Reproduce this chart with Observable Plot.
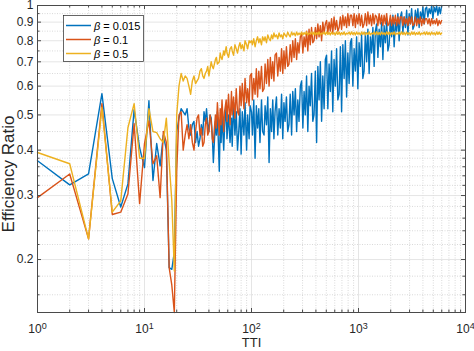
<!DOCTYPE html>
<html><head><meta charset="utf-8">
<script src="https://cdn.jsdelivr.net/npm/d3@7"></script>
<script src="https://cdn.jsdelivr.net/npm/@observablehq/plot@0.6"></script>
<style>
html,body{margin:0;padding:0;background:#fff;}
#chart{width:474px;height:351px;}
</style></head><body><div id="chart"></div>
<script>
// TTI values (x)
const tti = [1,2,3,4,5,6,7,8,9,10,11,12,13,14,15,16,17,18,19,20,
21,22,23,24,25,26,27,28,29,30,
31,32,33,34,35,36,37,38,39,40,
41,42,43,
44,46,47,48,50,51,52,53,55,56,
58,59,61,63,65,66,68,70,72,74,
76,78,80,82,85,87,90,92,95,97,
100,102,105,108,111,114,117,120,124,127,
131,134,138,142,146,150,154,158,162,166,
171,176,181,186,191,196,201,206,212,218,
224,230,237,243,250,257,264,271,278,286,
294,302,310,318,327,336,345,354,364,374,
384,395,406,417,428,440,452,464,477,490,
503,517,531,545,560,575,591,607,624,641,
659,677,695,714,734,754,774,795,817,839,
862,886,910,935,960,986,1013,1041,1069,1098,
1128,1159,1191,1224,1257,1291,1326,1363,1400,1438,
1477,1518,1559,1602,1645,1690,1736,1783,1832,1882,
1933,1986,2040,2096,2153,2212,2272,2334,2398,2463,
2530,2599,2670,2743,2818,2895,2974,3055,3138,3224,
3312,3402,3495,3590,3688,3789,3892,3998,4107,4219,
4334,4452,4574,4699,4827,4959,5094,5233,5376,5523,
5673,5828,5987];

// Efficiency ratio, beta = 0.015
const ratioBeta0015 = [0.374,0.321,0.344,0.572,0.334,0.279,0.323,0.517,0.406,0.358,0.547,0.330,0.417,0.362,0.440,0.400,0.190,0.188,0.210,0.450,
0.49,0.52,0.51,0.50,0.52,0.46,0.44,0.47,0.48,0.42,
0.45,0.41,0.43,0.47,0.44,0.51,0.48,0.52,0.47,0.45,
0.50,0.49,0.44,
0.37,0.48,0.44,0.51,0.35,0.47,0.42,0.50,0.40,0.46,
0.53,0.43,0.50,0.42,0.49,0.41,0.54,0.44,0.51,0.40,
0.45,0.52,0.39,0.51,0.44,0.54,0.40,0.50,0.43,0.53,
0.51,0.44,0.55,0.38,0.53,0.46,0.52,0.42,0.55,0.45,
0.44,0.53,0.47,0.56,0.37,0.52,0.45,0.55,0.43,0.51,
0.56,0.44,0.52,0.46,0.57,0.43,0.54,0.48,0.56,0.45,
0.47,0.57,0.44,0.58,0.50,0.59,0.45,0.55,0.48,0.60,
0.62,0.46,0.58,0.50,0.64,0.45,0.60,0.53,0.65,0.48,
0.50,0.66,0.42,0.68,0.55,0.70,0.48,0.64,0.52,0.71,
0.73,0.52,0.69,0.58,0.75,0.51,0.71,0.60,0.76,0.55,
0.57,0.77,0.51,0.78,0.63,0.80,0.56,0.74,0.61,0.79,
0.81,0.60,0.76,0.66,0.82,0.59,0.79,0.68,0.83,0.63,
0.66,0.84,0.70,0.86,0.65,0.82,0.74,0.87,0.68,0.85,
0.89,0.72,0.86,0.77,0.90,0.71,0.88,0.79,0.91,0.75,
0.78,0.92,0.82,0.94,0.77,0.90,0.85,0.95,0.80,0.93,
0.96,0.84,0.93,0.87,0.97,0.83,0.95,0.89,0.98,0.86,
0.88,0.97,0.91,0.98,0.87,0.96,0.92,0.99,0.89,0.98,
0.99,0.93,0.98,0.95,1.0,0.92,0.99,0.96,1.0,0.94,
0.99,0.95,1.0];

// Efficiency ratio, beta = 0.1
const ratioBeta01 = [0.296,0.344,0.228,0.537,0.266,0.270,0.303,0.473,0.285,0.417,0.482,0.367,0.386,0.296,0.450,0.420,0.190,0.170,0.143,0.350,
0.50,0.51,0.40,0.44,0.47,0.43,0.47,0.42,0.40,0.45,
0.49,0.50,0.44,0.46,0.41,0.42,0.47,0.49,0.44,0.45,
0.50,0.48,0.43,
0.42,0.50,0.46,0.54,0.44,0.52,0.47,0.55,0.45,0.51,
0.55,0.48,0.57,0.47,0.58,0.50,0.56,0.49,0.59,0.51,
0.50,0.60,0.53,0.61,0.52,0.63,0.54,0.59,0.53,0.64,
0.65,0.55,0.63,0.57,0.67,0.56,0.66,0.59,0.68,0.58,
0.59,0.69,0.61,0.71,0.60,0.72,0.63,0.70,0.62,0.73,
0.74,0.64,0.72,0.66,0.76,0.65,0.75,0.67,0.77,0.68,
0.69,0.78,0.70,0.80,0.72,0.81,0.71,0.79,0.74,0.82,
0.84,0.74,0.82,0.77,0.85,0.75,0.86,0.78,0.87,0.79,
0.80,0.87,0.81,0.89,0.82,0.88,0.80,0.90,0.84,0.89,
0.91,0.84,0.90,0.85,0.92,0.84,0.93,0.86,0.91,0.85,
0.87,0.93,0.86,0.94,0.88,0.93,0.87,0.95,0.88,0.94,
0.94,0.88,0.95,0.87,0.94,0.89,0.95,0.88,0.94,0.87,
0.89,0.95,0.88,0.96,0.89,0.94,0.88,0.95,0.89,0.94,
0.93,0.88,0.95,0.89,0.94,0.88,0.94,0.89,0.95,0.88,
0.89,0.94,0.88,0.93,0.89,0.94,0.88,0.93,0.89,0.93,
0.93,0.88,0.93,0.89,0.92,0.88,0.93,0.89,0.93,0.88,
0.89,0.93,0.88,0.92,0.89,0.93,0.88,0.92,0.89,0.92,
0.92,0.89,0.92,0.88,0.92,0.89,0.91,0.89,0.92,0.88,
0.91,0.89,0.91];

// Efficiency ratio, beta = 0.5
const ratioBeta05 = [0.394,0.367,0.228,0.524,0.270,0.290,0.461,0.537,0.380,0.380,0.520,0.450,0.447,0.430,0.420,0.490,0.370,0.290,0.186,0.500,
0.60,0.65,0.62,0.64,0.63,0.60,0.57,0.62,0.64,0.61,
0.62,0.63,0.66,0.67,0.64,0.63,0.65,0.66,0.68,0.64,
0.67,0.70,0.68,
0.67,0.71,0.72,0.69,0.70,0.74,0.72,0.71,0.75,0.73,
0.77,0.74,0.72,0.76,0.77,0.75,0.73,0.78,0.76,0.74,
0.77,0.79,0.76,0.78,0.75,0.80,0.78,0.76,0.80,0.79,
0.80,0.78,0.81,0.77,0.80,0.82,0.79,0.81,0.78,0.82,
0.80,0.82,0.79,0.83,0.81,0.80,0.83,0.81,0.84,0.82,
0.83,0.81,0.84,0.82,0.83,0.81,0.84,0.83,0.82,0.845,
0.83,0.82,0.845,0.83,0.84,0.825,0.845,0.83,0.84,0.83,
0.845,0.83,0.842,0.833,0.846,0.83,0.84,0.835,0.845,0.831,
0.845,0.83,0.842,0.833,0.846,0.83,0.84,0.835,0.845,0.831,
0.846,0.832,0.843,0.83,0.845,0.834,0.841,0.83,0.846,0.833,
0.845,0.83,0.842,0.833,0.846,0.83,0.84,0.835,0.845,0.831,
0.846,0.832,0.843,0.83,0.845,0.834,0.841,0.83,0.846,0.833,
0.845,0.83,0.842,0.833,0.846,0.83,0.84,0.835,0.845,0.831,
0.846,0.832,0.843,0.83,0.845,0.834,0.841,0.83,0.846,0.833,
0.845,0.83,0.842,0.833,0.846,0.83,0.84,0.835,0.845,0.831,
0.846,0.832,0.843,0.83,0.845,0.834,0.841,0.83,0.846,0.833,
0.845,0.83,0.842,0.833,0.846,0.83,0.84,0.835,0.845,0.831,
0.846,0.832,0.843,0.83,0.845,0.834,0.841,0.83,0.846,0.833,
0.845,0.832,0.84];

const seriesNames = ["0.015", "0.1", "0.5"];
const seriesColors = ["#0072BD", "#D95319", "#EDB120"];
const seriesValues = [ratioBeta0015, ratioBeta01, ratioBeta05];

const xTicks = [1, 10, 100, 1000, 10000];
const xMinorTicks = [2,3,4,5,6,7,8,9,20,30,40,50,60,70,80,90,200,300,400,500,600,700,800,900,2000,3000,4000,5000,6000,7000,8000,9000];
const yTicks = [0.2, 0.3, 0.4, 0.5, 0.6, 0.7, 0.8, 0.9, 1];
const yMinorTicks = [0.16,0.18,0.22,0.24,0.26,0.28,0.32,0.34,0.36,0.38,0.45,0.55,0.65,0.75,0.85,0.95];

const xLabel = "TTI";
const yLabel = "Efficiency Ratio";

seriesValues.forEach((v, s) => { if (v.length !== tti.length) throw new Error("length mismatch series " + s + ": " + v.length + " vs " + tti.length); });

const W = 474, H = 351, mt = 5, mb = 39, ml = 37, mr = 9;
const innerW = W - ml - mr, innerH = H - mt - mb;
const axisColor = "#4a4a4a";
const textColor = "#262626";

const rows = [];
seriesValues.forEach((vals, s) => {
  vals.forEach((v, i) => rows.push({tti: tti[i], ratio: v, series: seriesNames[s]}));
});

const lineMarks = seriesNames.map((name, s) =>
  Plot.line(rows.filter(r => r.series === name), {x: "tti", y: "ratio", stroke: seriesColors[s], strokeWidth: 1.4})
);

const chart = Plot.plot({
  width: W, height: H,
  marginTop: mt, marginBottom: mb, marginLeft: ml, marginRight: mr,
  style: {fontFamily: "'Liberation Sans', Arial, Helvetica, sans-serif", fontSize: "12px", color: textColor, background: "#fff"},
  x: {type: "log", domain: [1, 10000], ticks: xTicks, tickFormat: d => "10^" + Math.round(Math.log10(d)), tickSize: 0, tickPadding: 12, label: null},
  y: {type: "log", domain: [0.143, 1], ticks: yTicks, tickFormat: d => String(d), tickSize: 0, tickPadding: 4, label: null},
  marks: [
    Plot.ruleX(xMinorTicks, {stroke: "#c8c8c8", strokeWidth: 0.7, strokeDasharray: "1,1.5"}),
    Plot.ruleY(yMinorTicks, {stroke: "#c8c8c8", strokeWidth: 0.7, strokeDasharray: "1,1.5"}),
    Plot.ruleX(xTicks, {stroke: "#dedede", strokeWidth: 0.8}),
    Plot.ruleY(yTicks, {stroke: "#dedede", strokeWidth: 0.8}),
    ...lineMarks,
    Plot.ruleX(xTicks, {stroke: axisColor, insetTop: innerH - 4}),
    Plot.ruleX(xTicks, {stroke: axisColor, insetBottom: innerH - 4}),
    Plot.ruleX(xMinorTicks, {stroke: axisColor, insetTop: innerH - 2.5}),
    Plot.ruleX(xMinorTicks, {stroke: axisColor, insetBottom: innerH - 2.5}),
    Plot.ruleY(yTicks, {stroke: axisColor, insetRight: innerW - 4}),
    Plot.ruleY(yTicks, {stroke: axisColor, insetLeft: innerW - 4}),
    Plot.ruleY(yMinorTicks, {stroke: axisColor, insetRight: innerW - 2.5}),
    Plot.ruleY(yMinorTicks, {stroke: axisColor, insetLeft: innerW - 2.5}),
    Plot.frame({stroke: axisColor, strokeWidth: 1}),
    Plot.text([xLabel], {frameAnchor: "bottom", dy: 34, text: d => d, fontSize: 13, fill: textColor})
  ]
});

document.getElementById("chart").appendChild(chart);

const svg = d3.select(chart);
svg.selectAll('g[aria-label="x-axis tick label"] text').each(function() {
  const t = d3.select(this);
  const parts = t.text().split("^");
  if (parts.length !== 2) return;
  t.text("");
  t.append("tspan").text(parts[0]);
  t.append("tspan").attr("dy", "-0.45em").attr("font-size", "9px").text(parts[1]);
});
svg.selectAll('g[aria-label="x-axis tick label"], g[aria-label="y-axis tick label"]').attr("fill", textColor);

// y-axis title
svg.append("text")
  .attr("transform", "translate(14,174) rotate(-90)")
  .attr("text-anchor", "middle")
  .attr("font-family", "'Liberation Sans', Arial, sans-serif")
  .attr("font-size", "17px")
  .attr("fill", textColor)
  .text(yLabel);

// legend
const lg = svg.append("g").attr("font-family", "'Liberation Sans', Arial, sans-serif").attr("font-size", "11px").attr("text-anchor", "start");
lg.append("rect").attr("x", 63.5).attr("y", 15.5).attr("width", 80).attr("height", 46)
  .attr("fill", "#fff").attr("stroke", "#262626").attr("stroke-width", 0.7);
seriesNames.forEach((name, i) => {
  const y = 25.5 + 14 * i;
  lg.append("line").attr("x1", 66).attr("x2", 91).attr("y1", y).attr("y2", y)
    .attr("stroke", seriesColors[i]).attr("stroke-width", 1.5);
  const t = lg.append("text").attr("x", 94).attr("y", y + 4).attr("fill", "#000").attr("text-anchor", "start");
  t.append("tspan").attr("font-style", "italic").text("β");
  t.append("tspan").text(" = " + name);
});
</script>
</body></html>
